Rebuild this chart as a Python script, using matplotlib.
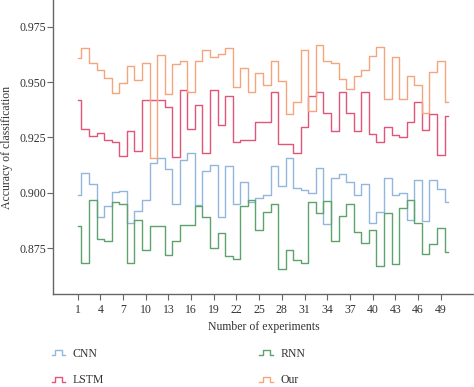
import numpy as np
import matplotlib
matplotlib.use('Agg')
import matplotlib.pyplot as plt
from matplotlib.legend_handler import HandlerBase
from matplotlib.lines import Line2D

# Data (50 experiments)
experiments = list(range(1, 51))

cnn = [0.8992, 0.9088, 0.9042, 0.8891, 0.8939, 0.9003, 0.9010, 0.8862, 0.8920, 0.8969,
       0.9137, 0.9157, 0.9110, 0.8952, 0.9150, 0.9178, 0.8944, 0.9100, 0.9125, 0.8893,
       0.9120, 0.8952, 0.9048, 0.8960, 0.8975, 0.8992, 0.9120, 0.9031, 0.9157, 0.9022,
       0.9014, 0.8998, 0.9112, 0.8860, 0.9067, 0.9086, 0.9047, 0.8990, 0.9040, 0.8862,
       0.8912, 0.9067, 0.8992, 0.9000, 0.8879, 0.9056, 0.8872, 0.9056, 0.9017, 0.8959]

lstm = [0.9417, 0.9289, 0.9258, 0.9270, 0.9240, 0.9228, 0.9168, 0.9277, 0.9187, 0.9417,
        0.9417, 0.9417, 0.9388, 0.9160, 0.9465, 0.9289, 0.9397, 0.9182, 0.9465, 0.9307,
        0.9435, 0.9229, 0.9240, 0.9240, 0.9318, 0.9318, 0.9457, 0.9220, 0.9220, 0.9180,
        0.9295, 0.9435, 0.9454, 0.9360, 0.9280, 0.9454, 0.9360, 0.9280, 0.9454, 0.9267,
        0.9228, 0.9297, 0.9262, 0.9250, 0.9320, 0.9408, 0.9285, 0.9357, 0.9170, 0.9348]

rnn = [0.8849, 0.8684, 0.8969, 0.8792, 0.8782, 0.8959, 0.8951, 0.8684, 0.8879, 0.8744,
       0.8849, 0.8849, 0.8722, 0.8782, 0.8855, 0.8855, 0.8939, 0.8892, 0.8752, 0.8819,
       0.8715, 0.8701, 0.8939, 0.8969, 0.8831, 0.8912, 0.8951, 0.8657, 0.8741, 0.8696,
       0.8684, 0.8957, 0.8909, 0.8962, 0.8782, 0.8894, 0.8950, 0.8822, 0.8774, 0.8831,
       0.8672, 0.8909, 0.8681, 0.8932, 0.8969, 0.8862, 0.8723, 0.8769, 0.8840, 0.8732]

our = [0.9608, 0.9653, 0.9585, 0.9555, 0.9517, 0.9450, 0.9495, 0.9573, 0.9507, 0.9585,
       0.9157, 0.9623, 0.9447, 0.9580, 0.9595, 0.9457, 0.9595, 0.9645, 0.9615, 0.9626,
       0.9653, 0.9477, 0.9565, 0.9457, 0.9543, 0.9487, 0.9594, 0.9505, 0.9357, 0.9408,
       0.9645, 0.9370, 0.9666, 0.9595, 0.9588, 0.9514, 0.9468, 0.9525, 0.9555, 0.9618,
       0.9656, 0.9425, 0.9615, 0.9425, 0.9525, 0.9487, 0.9360, 0.9545, 0.9594, 0.9408]

xticks = list(range(1, 50, 3))
yticks = [0.875, 0.900, 0.925, 0.950, 0.975]

plt.rcParams['font.family'] = ['Liberation Serif', 'DejaVu Serif']


class StepHandler(HandlerBase):
    # legend icon drawn as a small step pulse
    def create_artists(self, legend, orig_handle, xdescent, ydescent,
                       width, height, fontsize, trans):
        fx = np.array([0.0, 0.25, 0.25, 0.75, 0.75, 1.0])
        fy = np.array([0.2, 0.2, 0.8, 0.8, 0.2, 0.2])
        line = Line2D(fx * width - xdescent, fy * height - ydescent,
                      color=orig_handle.get_color(), lw=orig_handle.get_linewidth())
        line.set_transform(trans)
        return [line]


fig = plt.figure(figsize=(4.74, 3.87), dpi=100)
ax = fig.add_axes([53 / 474, 93 / 387, 421 / 474, 294 / 387])

l1, = ax.step(experiments, cnn, where='mid', color='#93b7dc', lw=1.0, label='CNN')
l2, = ax.step(experiments, lstm, where='mid', color='#e05578', lw=1.0, label='LSTM')
l3, = ax.step(experiments, rnn, where='mid', color='#5ea36e', lw=1.0, label='RNN')
l4, = ax.step(experiments, our, where='mid', color='#f5a57e', lw=1.0, label='Our')

ax.set_xlim(-2.26, 53.4)
ax.set_ylim(0.8544, 0.987)
ax.set_xticks(xticks)
ax.set_yticks(yticks)
ax.set_yticklabels(['%.3f' % v for v in yticks])

for s in ['top', 'right']:
    ax.spines[s].set_visible(False)
for s in ['left', 'bottom']:
    ax.spines[s].set_color('#666666')
    ax.spines[s].set_linewidth(1.0)
ax.tick_params(direction='out', length=4, width=0.8, color='#666666',
               labelsize=8.5, labelcolor='#333333')
ax.tick_params(axis='y', pad=1.2)
ax.tick_params(axis='x', pad=3)

ax.set_xlabel('Number of experiments', fontsize=8.5, color='#333333', labelpad=4)
ax.set_ylabel('Accuracy of classification', fontsize=8.5, color='#333333', labelpad=4)

fig.legend(handles=[l1, l2, l3, l4], ncol=2, frameon=False,
           loc='upper left', bbox_to_anchor=(41 / 474, 1 - 337 / 387),
           fontsize=8.5, labelcolor='#333333', handlelength=1.15, handletextpad=0.65,
           labelspacing=1.25, columnspacing=13.15,
           handler_map={Line2D: StepHandler()})

fig.savefig('out.png', dpi=100)
